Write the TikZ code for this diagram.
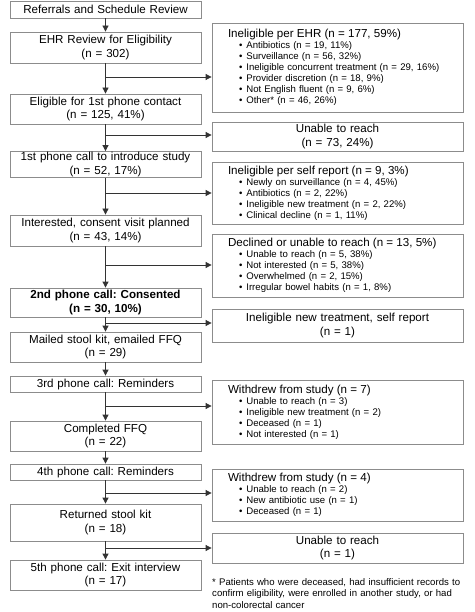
\documentclass[tikz,border=0pt]{standalone}
\usepackage{fontspec}
\setmainfont{Liberation Sans}
\usetikzlibrary{arrows.meta}
\frenchspacing

\newcommand{\hd}[1]{{\fontsize{11.6}{11}\selectfont #1}}
\newcommand{\itm}{\hspace*{11pt}\textbullet\hspace{4pt}}

\begin{document}
\begin{tikzpicture}[x=1pt, y=-1pt]
\tikzstyle{stage} = [rectangle, minimum width=191pt, text width=189pt, inner sep=0pt, align=center, draw=black!45, line width=0.8pt, font=\fontsize{11.6}{13.3}\selectfont]
\tikzstyle{excl} = [rectangle, minimum width=251pt, text width=219pt, inner xsep=16pt, inner ysep=0pt, align=left, draw=black!45, line width=0.8pt, font=\fontsize{9.6}{11}\selectfont]
\tikzstyle{exclc} = [rectangle, minimum width=251pt, text width=249pt, inner sep=0pt, align=center, draw=black!45, line width=0.8pt, font=\fontsize{11.6}{13.3}\selectfont]
\tikzstyle{flow} = [draw=black!80, line width=0.8pt, -{Triangle[length=6pt, width=6pt]}]

\useasboundingbox (0,0) rectangle (474,612);

% Main steps
\node (refer) [stage, minimum height=17pt] at (105.5,9.5) {Referrals and Schedule Review};
\node (ehr) [stage, minimum height=31pt] at (105.5,47.5) {EHR Review for Eligibility\\(n = 302)};
\node (elig) [stage, minimum height=30pt] at (105.5,109) {Eligible for 1st phone contact\\(n = 125, 41\%)};
\node (call1) [stage, minimum height=26pt] at (105.5,164.5) {1st phone call to introduce study\\(n = 52, 17\%)};
\node (plan) [stage, minimum height=31pt] at (105.5,230.5) {Interested, consent visit planned\\(n = 43, 14\%)};
\node (call2) [stage, minimum height=29pt] at (105.5,302.5) {\textbf{2nd phone call: Consented}\\\textbf{(n = 30, 10\%)}};
\node (kit) [stage, minimum height=30pt] at (105.5,347) {Mailed stool kit, emailed FFQ\\(n = 29)};
\node (call3) [stage, minimum height=16pt] at (105.5,384) {3rd phone call: Reminders};
\node (ffq) [stage, minimum height=30pt] at (105.5,436) {Completed FFQ\\(n = 22)};
\node (call4) [stage, minimum height=16pt] at (105.5,472) {4th phone call: Reminders};
\node (back) [stage, minimum height=37pt] at (105.5,522.5) {Returned stool kit\\(n = 18)};
\node (call5) [stage, minimum height=30pt] at (105.5,575) {5th phone call: Exit interview\\(n = 17)};

% Exclusions
\node (inehr) [excl, minimum height=89pt] at (337.5,67.5) {\hd{Ineligible per EHR (n = 177, 59\%)}\\
  \itm Antibiotics (n = 19, 11\%)\\
  \itm Surveillance (n = 56, 32\%)\\
  \itm Ineligible concurrent treatment (n = 29, 16\%)\\
  \itm Provider discretion (n = 18, 9\%)\\
  \itm Not English fluent (n = 9, 6\%)\\
  \itm Other* (n = 46, 26\%)};
\node (reach1) [exclc, minimum height=29pt] at (337.5,136.5) {Unable to reach\\(n = 73, 24\%)};
\node (inself) [excl, minimum height=62pt] at (337.5,193) {\hd{Ineligible per self report (n = 9, 3\%)}\\
  \itm Newly on surveillance (n = 4, 45\%)\\
  \itm Antibiotics (n = 2, 22\%)\\
  \itm Ineligible new treatment (n = 2, 22\%)\\
  \itm Clinical decline (n = 1, 11\%)};
\node (decl) [excl, minimum height=63pt] at (337.5,265.5) {\hd{Declined or unable to reach (n = 13, 5\%)}\\
  \itm Unable to reach (n = 5, 38\%)\\
  \itm Not interested (n = 5, 38\%)\\
  \itm Overwhelmed (n = 2, 15\%)\\
  \itm Irregular bowel habits (n = 1, 8\%)};
\node (innew) [exclc, minimum height=33pt] at (337.5,325.5) {Ineligible new treatment, self report\\(n = 1)};
\node (wd7) [excl, minimum height=64pt] at (337.5,412) {\hd{Withdrew from study (n = 7)}\\
  \itm Unable to reach (n = 3)\\
  \itm Ineligible new treatment (n = 2)\\
  \itm Deceased (n = 1)\\
  \itm Not interested (n = 1)};
\node (wd4) [excl, minimum height=52pt] at (337.5,495) {\hd{Withdrew from study (n = 4)}\\
  \itm Unable to reach (n = 2)\\
  \itm New antibiotic use (n = 1)\\
  \itm Deceased (n = 1)};
\node (reach2) [exclc, minimum height=30pt] at (337.5,548) {Unable to reach\\(n = 1)};

% Footnote
\node (note) [anchor=north west, text width=260pt, inner sep=0pt, align=left, font=\fontsize{9.6}{11.5}\selectfont] at (212,578) {* Patients who were deceased, had insufficient records to\\confirm eligibility, were enrolled in another study, or had\\non-colorectal cancer};

% Branches
\coordinate (branch1) at (105.5,77);
\coordinate (branch2) at (105.5,135);
\coordinate (branch3) at (105.5,193);
\coordinate (branch4) at (105.5,265);
\coordinate (branch5) at (105.5,323);
\coordinate (branch6) at (105.5,406);
\coordinate (branch7) at (105.5,493);
\coordinate (branch8) at (105.5,548);

% Draws
% Main flow
\draw [flow] (refer) -- (ehr);
\draw [flow] (ehr) -- (elig);
\draw [flow] (elig) -- (call1);
\draw [flow] (call1) -- (plan);
\draw [flow] (plan) -- (call2);
\draw [flow] (call2) -- (kit);
\draw [flow] (kit) -- (call3);
\draw [flow] (call3) -- (ffq);
\draw [flow] (ffq) -- (call4);
\draw [flow] (call4) -- (back);
\draw [flow] (back) -- (call5);

% From branches to exclusions
\draw [flow] (branch1) -- (branch1 -| inehr.west);
\draw [flow] (branch2) -- (branch2 -| reach1.west);
\draw [flow] (branch3) -- (branch3 -| inself.west);
\draw [flow] (branch4) -- (branch4 -| decl.west);
\draw [flow] (branch5) -- (branch5 -| innew.west);
\draw [flow] (branch6) -- (branch6 -| wd7.west);
\draw [flow] (branch7) -- (branch7 -| wd4.west);
\draw [flow] (branch8) -- (branch8 -| reach2.west);
\end{tikzpicture}
\end{document}
